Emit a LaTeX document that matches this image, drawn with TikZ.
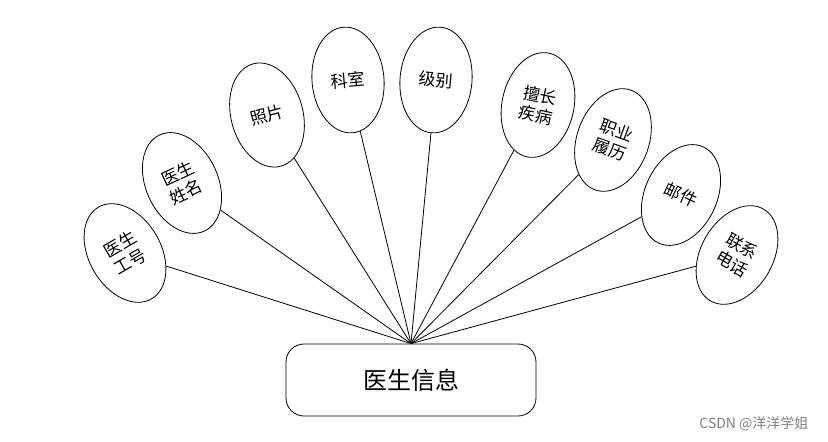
\documentclass[tikz,border=0pt]{standalone}
\usepackage{fontspec}
\setmainfont{Noto Sans CJK SC}
\usetikzlibrary{shapes.geometric}
\usetikzlibrary{positioning}

\begin{document}
\begin{tikzpicture}[x=1pt,y=-1pt]
\tikzset{attr/.style={ellipse,draw,thick,fill=white,minimum width=72pt,minimum height=106pt,inner sep=0pt,align=center,font=\fontsize{17}{20}\selectfont},
entity/.style={rectangle,rounded corners=18pt,draw,thick,minimum width=250pt,minimum height=72pt,font=\fontsize{24}{28}\selectfont}}
\useasboundingbox (0,0) rectangle (828,442);
\node[entity](info) at (411,380){医生信息};
\node[attr,rotate=30](gh) at (125,253){医生\\工号};
\node[attr,rotate=25](xm) at (182,183){医生\\姓名};
\node[attr,rotate=15](zp) at (267,115){照片};
\node[attr,rotate=5](ks) at (348,80){科室};
\node[attr,rotate=-5](jb) at (436,80){级别};
\node[attr,rotate=-12](sc) at (538,105){擅长\\疾病};
\node[attr,rotate=-20](ll) at (613,140){职业\\履历};
\node[attr,rotate=-25](yj) at (681,195){邮件};
\node[attr,rotate=-30](dh) at (737,255){联系\\电话};
\foreach \n in {gh,xm,zp,ks,jb,sc,ll,yj,dh}
  \draw[thick](info.north) -- (\n);
\node[text=gray,font=\fontsize{14}{16}\selectfont,anchor=east](wm) at (812,424){CSDN @洋洋学姐};
\end{tikzpicture}
\end{document}
